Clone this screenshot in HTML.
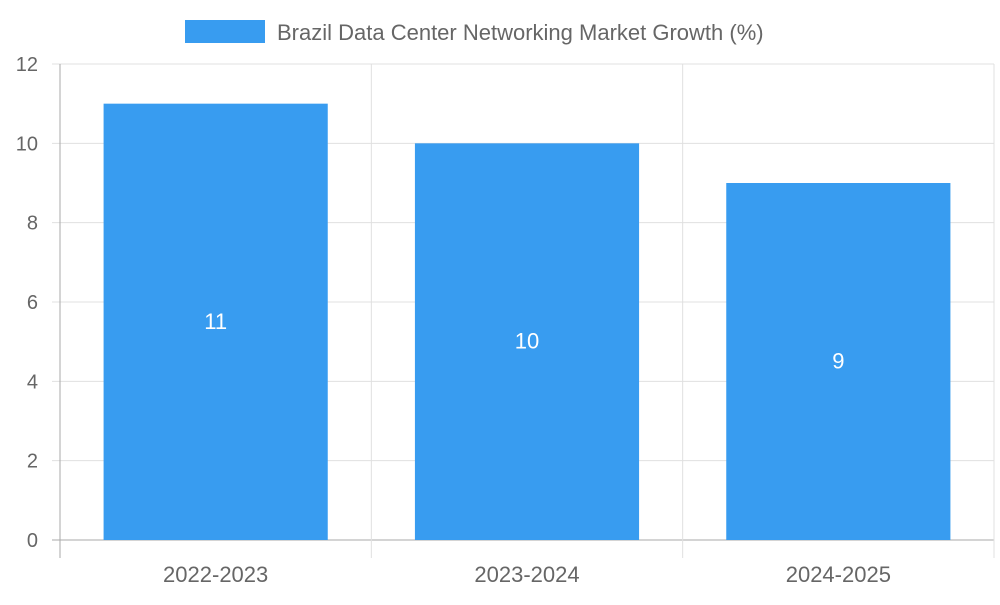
<!DOCTYPE html>
<html><head><meta charset="utf-8"><style>
body{margin:0;background:#fff;}
svg text{font-family:"Liberation Sans",sans-serif;}
</style></head><body>
<svg id="chart" width="1000" height="600">
<rect x="185" y="20" width="80" height="23" fill="#389cf0"/>
<text x="277" y="40" font-size="22" fill="#666">Brazil Data Center Networking Market Growth (%)</text>
<g id="grid"></g><g id="bars"></g><g id="labels"></g>
</svg>
<script>
const categories=["2022-2023","2023-2024","2024-2025"];
const values=[11,10,9];
const yTicks=[0,2,4,6,8,10,12];
const L=60,R=994,T=64,B=540,yMax=12;
const y=v=>B-(v/yMax)*(B-T);
const cw=(R-L)/categories.length;
const x=i=>L+cw*i;
const ns="http://www.w3.org/2000/svg";
function mk(tag,attrs,parent,txt){const e=document.createElementNS(ns,tag);for(const k in attrs)e.setAttribute(k,attrs[k]);if(txt!==undefined)e.textContent=txt;parent.appendChild(e);return e;}
const g=document.getElementById('grid'),gb=document.getElementById('bars'),gl=document.getElementById('labels');
yTicks.forEach(t=>{
 const ln=mk('line',{x1:L-8,x2:R,y1:y(t),y2:y(t),stroke:t===0?'#aaa':'#e0e0e0','stroke-width':1},g);
 
 
 const tx=mk('text',{x:L-22,y:y(t)+7,'font-size':20,fill:'#666','text-anchor':'end'},g,String(t));
 
 
});
for(let i=0;i<=categories.length;i++){
 const ln=mk('line',{x1:x(i),x2:x(i),y1:T,y2:B+18,stroke:i===0?'#aaa':'#e0e0e0','stroke-width':1},g);
 
 
}
categories.forEach((c,i)=>{
 const bw=cw*0.72,cx=x(i)+cw/2;
 const r=mk('rect',{x:cx-bw/2,y:y(values[i]),width:bw,height:B-y(values[i]),fill:'#389cf0'},gb);
 
 
 const v=mk('text',{x:cx,y:(y(values[i])+B)/2+7,'font-size':22,fill:'#fff','text-anchor':'middle'},gl,String(values[i]));
 
 
 const t=mk('text',{x:cx,y:582,'font-size':22,fill:'#666','text-anchor':'middle'},gl,c);
 
 
});
</script>
</body></html>
